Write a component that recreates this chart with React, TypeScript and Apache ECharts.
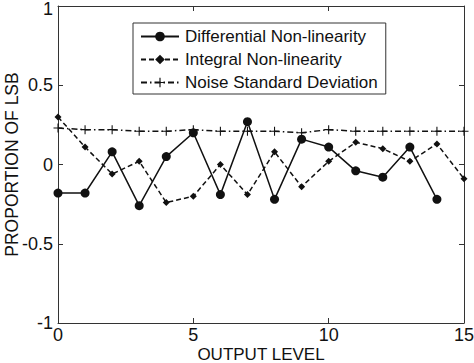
import React, { useEffect, useRef } from "react";
import * as echarts from "echarts";

const levels = [0, 1, 2, 3, 4, 5, 6, 7, 8, 9, 10, 11, 12, 13, 14, 15];
const dnl = [-0.18, -0.18, 0.08, -0.26, 0.05, 0.2, -0.19, 0.27, -0.22, 0.16, 0.11, -0.04, -0.08, 0.11, -0.22];
const inl = [0.3, 0.11, -0.06, 0.02, -0.24, -0.2, 0.0, -0.19, 0.08, -0.14, 0.02, 0.14, 0.1, 0.02, 0.13, -0.09];
const noise = [0.23, 0.22, 0.22, 0.21, 0.21, 0.22, 0.21, 0.21, 0.21, 0.2, 0.22, 0.21, 0.21, 0.21, 0.21, 0.21];
const seriesNames = ["Differential Non-linearity", "Integral Non-linearity", "Noise Standard Deviation"];

const pair = (vals: number[]) => vals.map((v, i) => [levels[i], v]);

const FONT = "Liberation Sans, Arial, sans-serif";
const PLUS = "path://M-0.12,-1 L0.12,-1 L0.12,-0.12 L1,-0.12 L1,0.12 L0.12,0.12 L0.12,1 L-0.12,1 L-0.12,0.12 L-1,0.12 L-1,-0.12 L-0.12,-0.12 Z";

export default function App() {
  const ref = useRef<HTMLDivElement>(null);
  useEffect(() => {
    document.body.style.margin = "0";
    const chart = echarts.init(ref.current!, null, { renderer: "svg" });
    const axisLine = { show: true, onZero: false, lineStyle: { color: "#333", width: 1 } };
    const tick = { show: true, inside: true, length: 5, lineStyle: { color: "#333" } };
    chart.setOption({
      animation: false,
      backgroundColor: "#fff",
      grid: { left: 58, right: 10, top: 6, bottom: 40, containLabel: false, outerBoundsMode: "none" },
      legend: {
        orient: "vertical",
        left: 133,
        top: 23,
        padding: [5, 8, 3, 7],
        itemGap: 6,
        itemWidth: 38,
        itemHeight: 12,
        borderColor: "#333",
        borderWidth: 1,
        backgroundColor: "#fff",
        textStyle: { fontFamily: FONT, fontSize: 17, color: "#111", padding: [0, 0, 0, 1] },
        data: seriesNames,
      },
      xAxis: [
        {
          type: "value",
          min: 0,
          max: 15,
          interval: 5,
          name: "OUTPUT LEVEL",
          nameLocation: "middle",
          nameGap: 24,
          nameMoveOverlap: false,
          nameTextStyle: { fontFamily: FONT, fontSize: 17, lineHeight: 14, color: "#111" },
          axisLine,
          axisTick: tick,
          splitLine: { show: false },
          axisLabel: { fontFamily: FONT, fontSize: 18, color: "#111", margin: 3 },
        },
        {
          type: "value",
          position: "top",
          min: 0,
          max: 15,
          interval: 5,
          axisLine,
          axisTick: tick,
          splitLine: { show: false },
          axisLabel: { show: false },
        },
      ],
      yAxis: [
        {
          type: "value",
          min: -1,
          max: 1,
          interval: 0.5,
          name: "PROPORTION OF LSB",
          nameLocation: "middle",
          nameGap: 37,
          nameMoveOverlap: false,
          nameTextStyle: { fontFamily: FONT, fontSize: 17.5, color: "#111" },
          axisLine,
          axisTick: tick,
          splitLine: { show: false },
          axisLabel: {
            fontFamily: FONT,
            fontSize: 18,
            lineHeight: 13,
            color: "#111",
            margin: 5,
            formatter: (v: number) => (v === 1 ? "{t|1}" : String(v)),
            rich: {
              t: { fontFamily: FONT, fontSize: 18, lineHeight: 13, color: "#111", padding: [6, 0, 0, 0] },
            },
          },
        },
        {
          type: "value",
          position: "right",
          min: -1,
          max: 1,
          interval: 0.5,
          axisLine,
          axisTick: tick,
          splitLine: { show: false },
          axisLabel: { show: false },
        },
      ],
      series: [
        {
          name: seriesNames[0],
          type: "line",
          data: pair(dnl),
          symbol: "circle",
          symbolSize: 9,
          lineStyle: { color: "#111", width: 1.5, type: "solid" },
          itemStyle: { color: "#111" },
        },
        {
          name: seriesNames[1],
          type: "line",
          data: pair(inl),
          symbol: "diamond",
          symbolSize: 7,
          lineStyle: { color: "#111", width: 1.5, type: [5, 3] },
          itemStyle: { color: "#111" },
        },
        {
          name: seriesNames[2],
          type: "line",
          data: pair(noise),
          symbol: PLUS,
          symbolSize: 9,
          lineStyle: { color: "#111", width: 1.5, type: [6, 3, 1.5, 3] },
          itemStyle: { color: "#111" },
        },
      ],
    });
    return () => chart.dispose();
  }, []);
  return <div ref={ref} style={{ width: 474, height: 363 }} />;
}
